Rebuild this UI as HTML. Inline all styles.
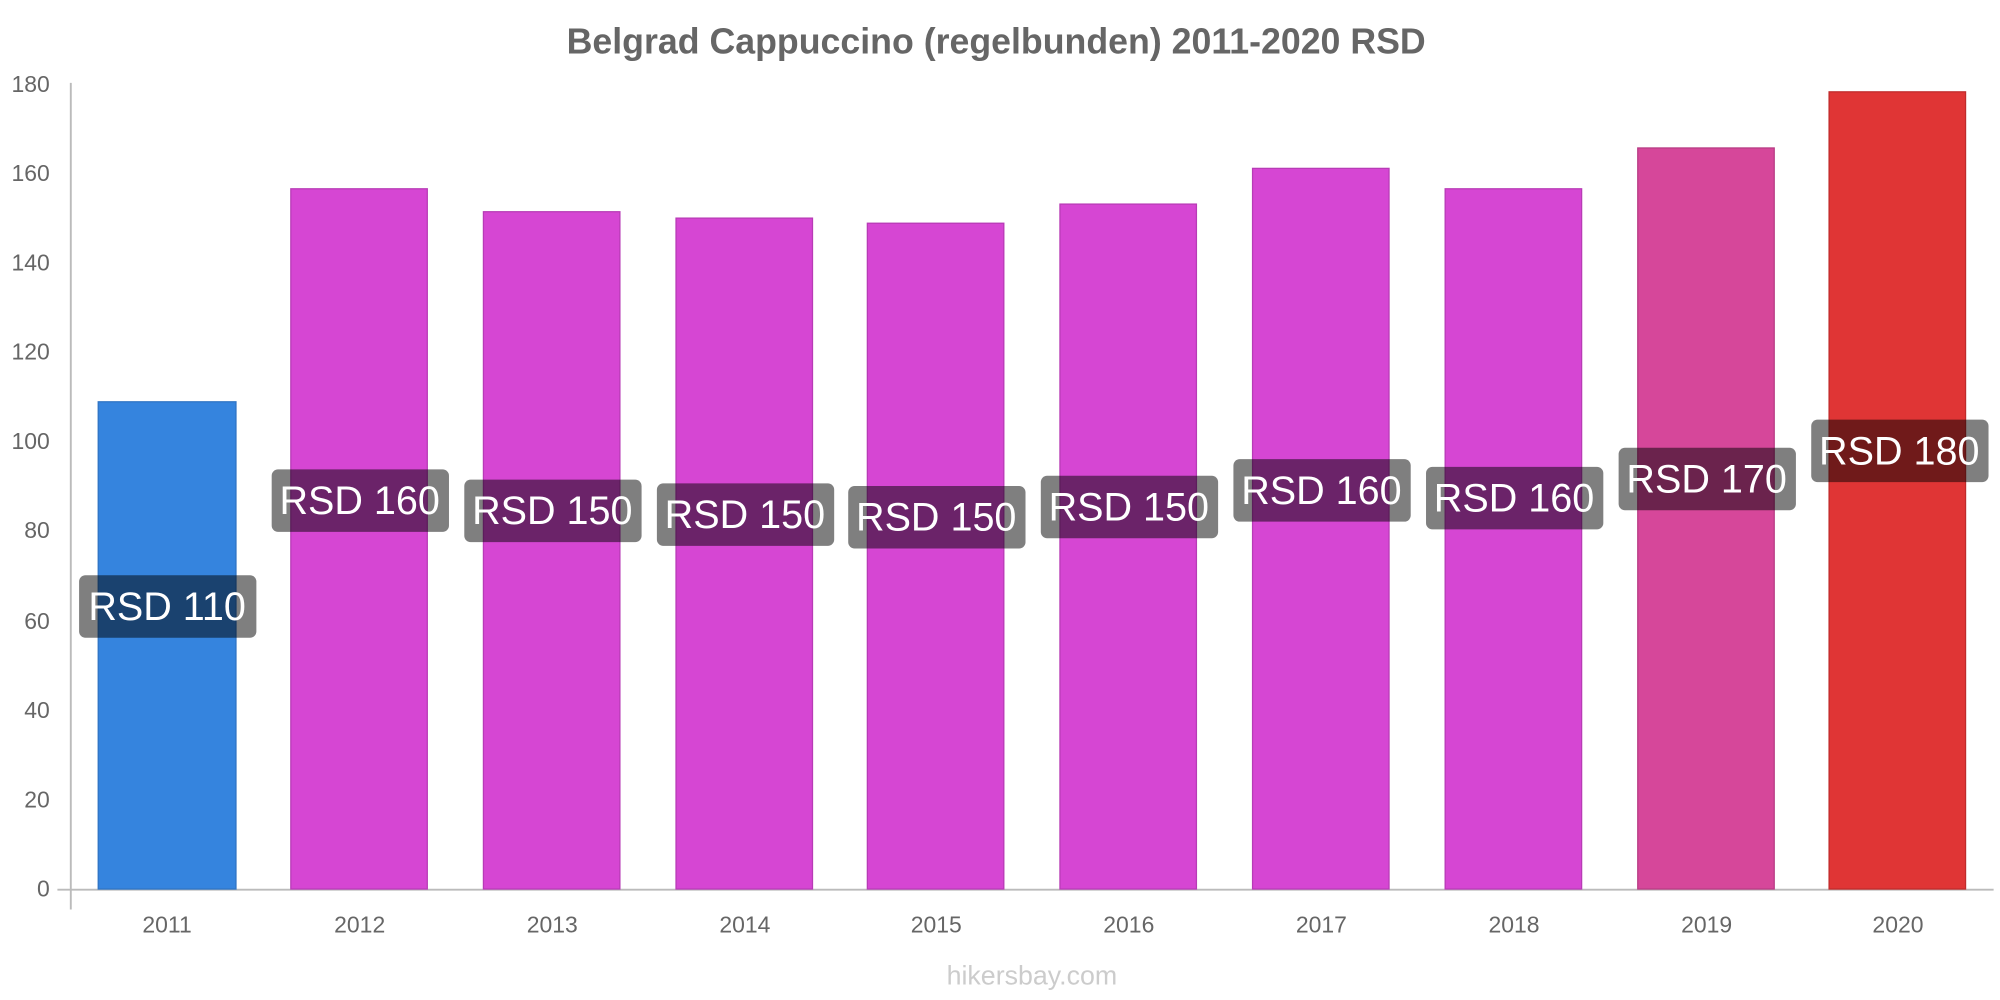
<!DOCTYPE html>
<html><head><meta charset="utf-8"><style>html,body{margin:0;padding:0;background:#fff}svg{display:block}</style></head>
<body>
<svg width="2000" height="1000" viewBox="0 0 1568 784" xmlns="http://www.w3.org/2000/svg" font-family="Liberation Sans, sans-serif">
<text x="781" y="42" text-anchor="middle" font-size="28" font-weight="bold" fill="#666">Belgrad Cappuccino (regelbunden) 2011-2020 RSD</text>
<g font-size="18" fill="#666" text-anchor="end">
<text x="39" y="703">0</text><text x="39" y="633">20</text><text x="39" y="563">40</text><text x="39" y="493">60</text><text x="39" y="422">80</text><text x="39" y="352">100</text><text x="39" y="282">120</text><text x="39" y="212">140</text><text x="39" y="142">160</text><text x="39" y="72">180</text>
</g>
<line x1="55.5" y1="65" x2="55.5" y2="713" stroke="#bbb" stroke-width="1.5"/>
<line x1="45" y1="697.5" x2="1563" y2="697.5" stroke="#bbb" stroke-width="1.5"/>
<g stroke-width="1">
<rect x="77" y="315" width="108" height="382" fill="#3584de" stroke="#2f74c4"/>
<rect x="228" y="148" width="107" height="549" fill="#d646d3" stroke="#b83bb6"/>
<rect x="379" y="166" width="107" height="531" fill="#d646d3" stroke="#b83bb6"/>
<rect x="530" y="171" width="107" height="526" fill="#d646d3" stroke="#b83bb6"/>
<rect x="680" y="175" width="107" height="522" fill="#d646d3" stroke="#b83bb6"/>
<rect x="831" y="160" width="107" height="537" fill="#d646d3" stroke="#b83bb6"/>
<rect x="982" y="132" width="107" height="565" fill="#d646d3" stroke="#b83bb6"/>
<rect x="1133" y="148" width="107" height="549" fill="#d646d3" stroke="#b83bb6"/>
<rect x="1284" y="116" width="107" height="581" fill="#d6479a" stroke="#b83c84"/>
<rect x="1434" y="72" width="107" height="625" fill="#e03535" stroke="#c02b2b"/>
</g>
<g fill="rgba(0,0,0,0.5)">
<rect x="62" y="451" width="139" height="49" rx="5"/>
<rect x="213" y="368" width="139" height="49" rx="5"/>
<rect x="364" y="376" width="139" height="49" rx="5"/>
<rect x="515" y="379" width="139" height="49" rx="5"/>
<rect x="665" y="381" width="139" height="49" rx="5"/>
<rect x="816" y="373" width="139" height="49" rx="5"/>
<rect x="967" y="360" width="139" height="49" rx="5"/>
<rect x="1118" y="366" width="139" height="49" rx="5"/>
<rect x="1269" y="351" width="139" height="49" rx="5"/>
<rect x="1420" y="329" width="139" height="49" rx="5"/>
</g>
<g font-size="31" fill="#fff" text-anchor="middle">
<text x="131" y="486">RSD 110</text>
<text x="282" y="403">RSD 160</text>
<text x="433" y="411">RSD 150</text>
<text x="584" y="414">RSD 150</text>
<text x="734" y="416">RSD 150</text>
<text x="885" y="408">RSD 150</text>
<text x="1036" y="395">RSD 160</text>
<text x="1187" y="401">RSD 160</text>
<text x="1338" y="386">RSD 170</text>
<text x="1489" y="364">RSD 180</text>
</g>
<g font-size="18" fill="#666" text-anchor="middle">
<text x="131" y="731">2011</text><text x="282" y="731">2012</text><text x="433" y="731">2013</text><text x="584" y="731">2014</text><text x="734" y="731">2015</text><text x="885" y="731">2016</text><text x="1036" y="731">2017</text><text x="1187" y="731">2018</text><text x="1338" y="731">2019</text><text x="1488" y="731">2020</text>
</g>
<text x="809" y="772" text-anchor="middle" font-size="21" fill="#ccc">hikersbay.com</text>
</svg>
</body></html>
